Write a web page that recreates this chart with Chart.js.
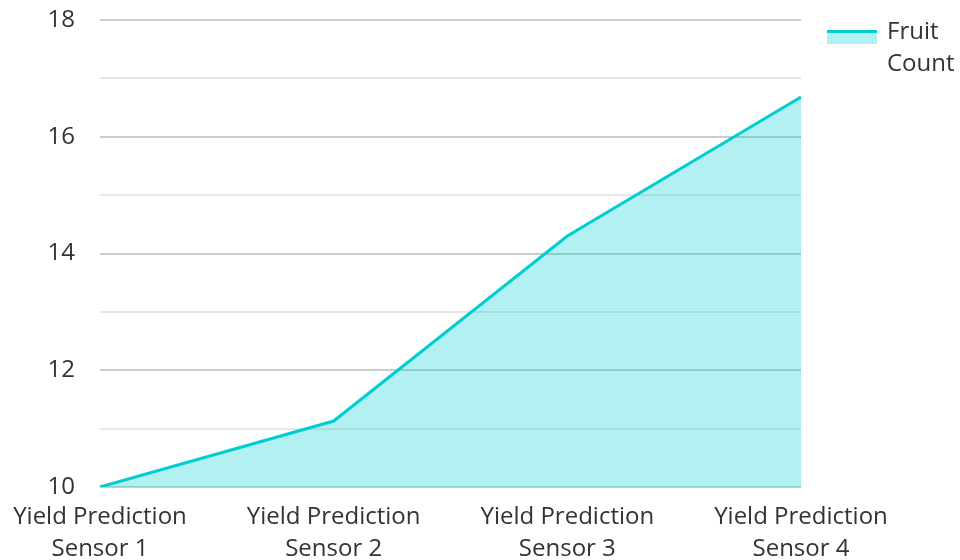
<!DOCTYPE html>
<html>
<head>
<meta charset="utf-8">
<script src="https://cdn.jsdelivr.net/npm/chart.js@4/dist/chart.umd.min.js"></script>
<style>
  html, body { margin: 0; padding: 0; background: #fff; }
  #wrap { width: 960px; height: 560px; }
</style>
</head>
<body>
<div id="wrap"><canvas id="chart"></canvas></div>
<script>
// chart data
const sensors = [
  ['Yield Prediction', 'Sensor 1'],
  ['Yield Prediction', 'Sensor 2'],
  ['Yield Prediction', 'Sensor 3'],
  ['Yield Prediction', 'Sensor 4']
];
const fruitCount = [10, 11.13, 14.3, 16.68];
const seriesName = ['Fruit', 'Count'];
const yMin = 10, yMax = 18;

const LINE = '#00ced1';
const FILL = 'rgba(0, 206, 209, 0.3)';
const TEXT = '#333';

// legend drawn by hand so the label can wrap onto two lines
const sideLegend = {
  id: 'sideLegend',
  afterDraw(chart) {
    const ctx = chart.ctx;
    const x = 827, y = 31;
    ctx.save();
    ctx.fillStyle = FILL;
    ctx.fillRect(x, y, 50, 13);
    ctx.fillStyle = LINE;
    ctx.fillRect(x, y - 1, 50, 3);
    ctx.fillStyle = TEXT;
    ctx.font = '24px "Open Sans"';
    ctx.textBaseline = 'middle';
    ctx.fillText(seriesName[0], 887, 32);
    ctx.fillText(seriesName[1], 887, 64);
    ctx.restore();
  }
};

new Chart(document.getElementById('chart'), {
  type: 'line',
  data: {
    labels: sensors,
    datasets: [{
      label: seriesName.join(' '),
      data: fruitCount,
      borderColor: LINE,
      backgroundColor: FILL,
      borderWidth: 3,
      fill: 'origin',
      tension: 0,
      pointRadius: 0
    }]
  },
  options: {
    responsive: true,
    maintainAspectRatio: false,
    animation: false,
    layout: { padding: { top: 20, right: 159, left: 0, bottom: 0 } },
    plugins: { legend: { display: false }, tooltip: { enabled: false } },
    scales: {
      x: {
        offset: false,
        grid: { display: false },
        border: { display: false },
        ticks: {
          color: TEXT,
          font: { family: 'Open Sans', size: 24, lineHeight: 1.33 },
          maxRotation: 0,
          autoSkip: false,
          padding: 6
        },
        afterFit(s) { s.height = 73; }
      },
      y: {
        min: yMin,
        max: yMax,
        border: { display: false },
        grid: {
          color: c => (c.tick && c.tick.value % 2 === 0) ? '#cccccc' : '#e6e6e6',
          lineWidth: 2,
          drawTicks: false
        },
        ticks: {
          stepSize: 1,
          color: TEXT,
          font: { family: 'Open Sans', size: 24 },
          padding: 25,
          callback: v => (v % 2 === 0 ? v : '')
        },
        afterFit(s) { s.width = 100; s.paddingTop = 0; s.paddingBottom = 0; }
      }
    }
  },
  plugins: [sideLegend]
});
</script>
</body>
</html>
